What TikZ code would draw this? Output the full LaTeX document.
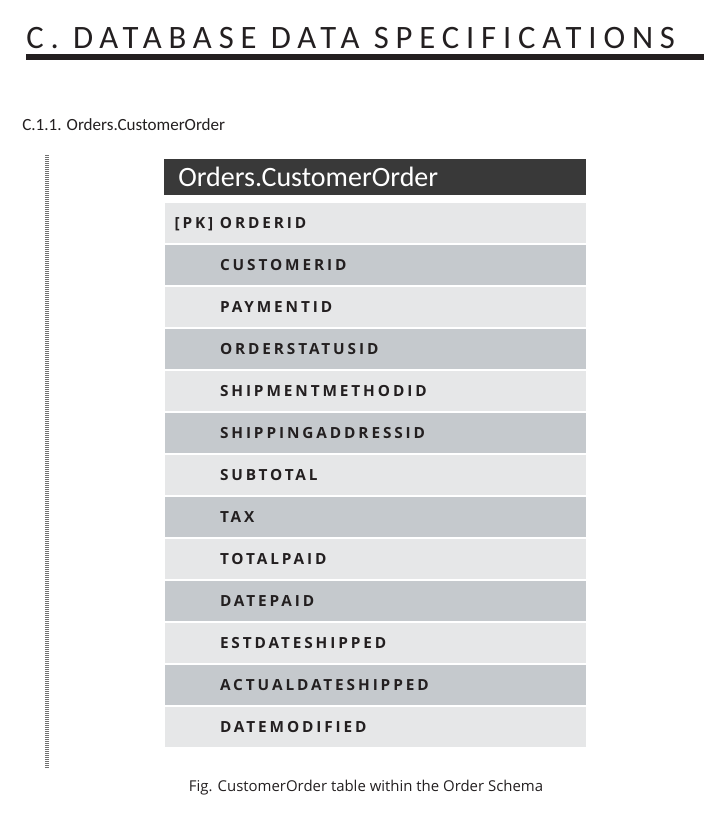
\documentclass[tikz,border=0pt]{standalone}
\usepackage{fontspec}
\setmainfont{Open Sans}
\newfontfamily\calfont{Carlito}
\usetikzlibrary{positioning}
\definecolor{ink}{HTML}{231F20}
\definecolor{hdrbg}{HTML}{393939}
\definecolor{rowlt}{HTML}{E6E7E8}
\definecolor{rowdk}{HTML}{C5C9CD}
\definecolor{hatch}{HTML}{707070}
\newcommand{\fld}[1]{{\addfontfeatures{LetterSpace=19}\bfseries #1}}
\tikzset{
  hdr/.style   ={fill=hdrbg, text=white, anchor=north west, minimum width=316.5pt, minimum height=27pt,
                 text width=295.5pt, inner xsep=10.5pt, align=left, font=\calfont\fontsize{21}{24}\selectfont},
  fldl/.style  ={fill=rowlt, text=ink, minimum width=315.75pt, minimum height=30pt, outer sep=0pt,
                 text height=8.4pt, text depth=0pt,
                 text width=233.25pt, inner xsep=41.25pt, align=left, font=\fontsize{11.5}{13}\selectfont},
  fldd/.style  ={fldl, fill=rowdk},
  ttlstyle/.style={anchor=base west, text=ink, inner sep=0pt, font=\calfont\fontsize{24.5}{28}\selectfont},
  sub/.style   ={anchor=base west, text=ink, inner sep=0pt, font=\calfont\fontsize{12.8}{15}\selectfont},
  figcap/.style={anchor=base, text=ink, inner sep=0pt, font=\fontsize{11.2}{13}\selectfont},
}

\begin{document}
\begin{tikzpicture}[x=0.75pt,y=-0.75pt]
    \useasboundingbox (0,0) rectangle (704,815);
    \node[ttlstyle] (ttl) at (26,48.5) {\addfontfeatures{LetterSpace=21}C. DATABASE DATA SPECIFICATIONS};
    \fill[ink] (26,53.5) rectangle (704,60);
    \node[sub] (sec) at (22,130) {C.1.1. Orders.CustomerOrder};

    % hatched margin bar
    \draw[hatch, line width=3.5pt, dash pattern=on 0.75pt off 0.75pt] (47,155) -- (47,768);

    \node[hdr] (tbl) at (164,159) {Orders.CustomerOrder};
    \node[fldl,anchor=north west] (r1) at (165,203) {\fld{\llap{[PK]\hspace{5pt}}ORDERID}};
    \node[fldd,below=1.5pt of r1]  (r2)  {\fld{CUSTOMERID}};
    \node[fldl,below=1.5pt of r2]  (r3)  {\fld{PAYMENTID}};
    \node[fldd,below=1.5pt of r3]  (r4)  {\fld{ORDERSTATUSID}};
    \node[fldl,below=1.5pt of r4]  (r5)  {\fld{SHIPMENTMETHODID}};
    \node[fldd,below=1.5pt of r5]  (r6)  {\fld{SHIPPINGADDRESSID}};
    \node[fldl,below=1.5pt of r6]  (r7)  {\fld{SUBTOTAL}};
    \node[fldd,below=1.5pt of r7]  (r8)  {\fld{TAX}};
    \node[fldl,below=1.5pt of r8]  (r9)  {\fld{TOTALPAID}};
    \node[fldd,below=1.5pt of r9]  (r10) {\fld{DATEPAID}};
    \node[fldl,below=1.5pt of r10] (r11) {\fld{ESTDATESHIPPED}};
    \node[fldd,below=1.5pt of r11] (r12) {\fld{ACTUALDATESHIPPED}};
    \node[fldl,below=1.5pt of r12] (r13) {\fld{DATEMODIFIED}};

    \node[figcap] (fig) at (366,791) {Fig. CustomerOrder table within the Order Schema};
  \end{tikzpicture}
\end{document}
